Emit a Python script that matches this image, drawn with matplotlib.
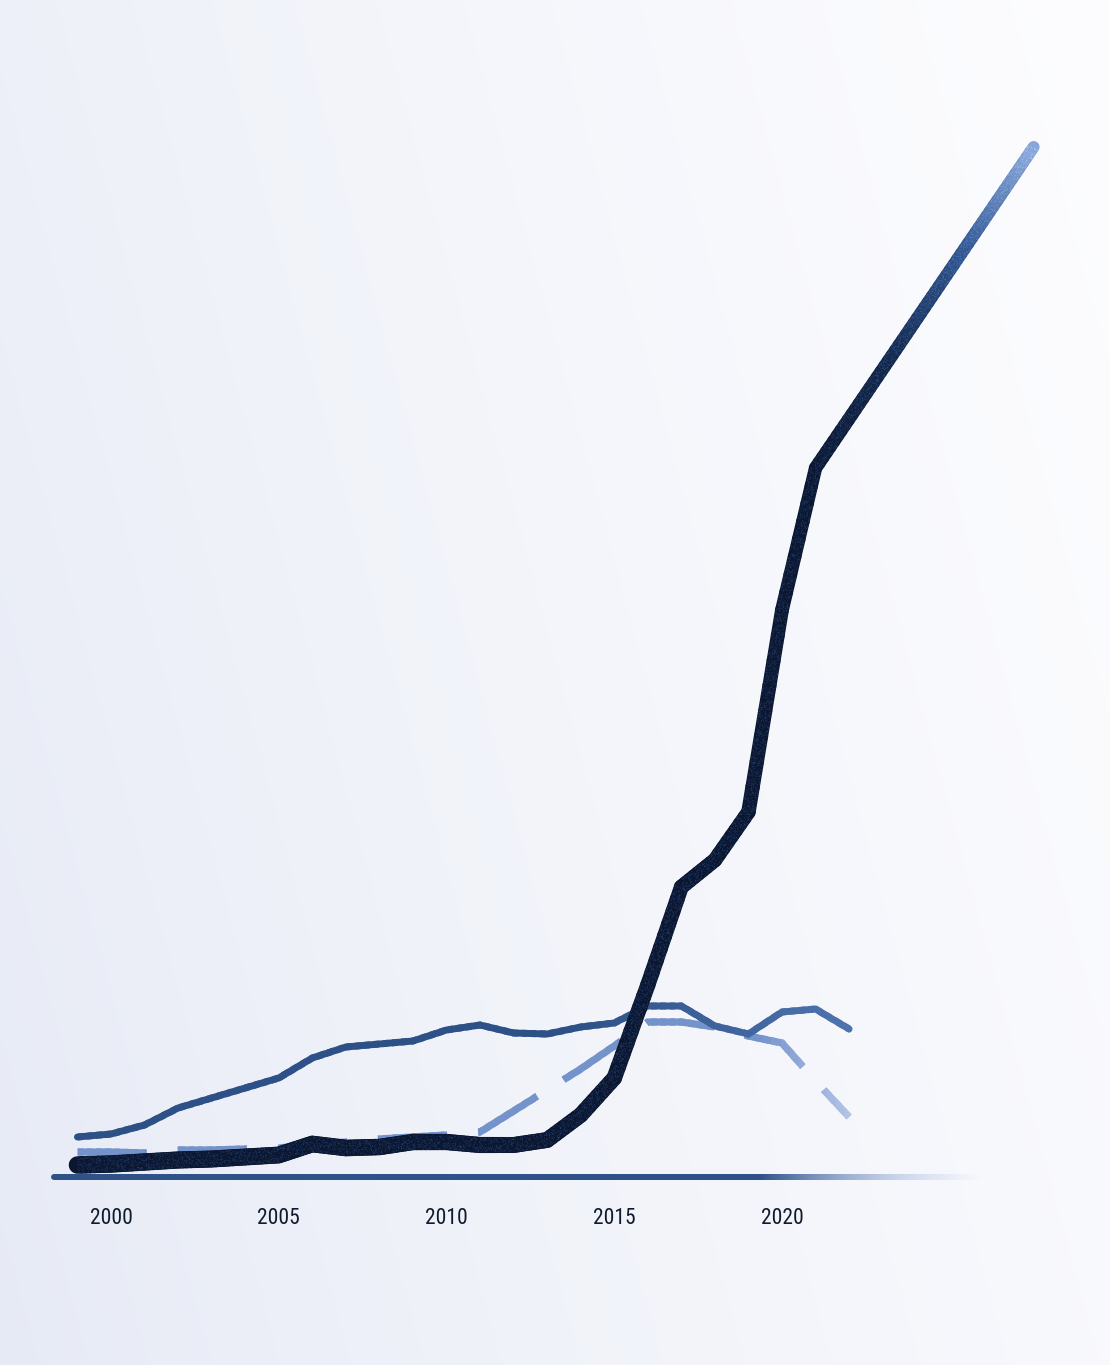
import numpy as np
import matplotlib
matplotlib.use("Agg")
import matplotlib.pyplot as plt
from matplotlib.collections import LineCollection
from matplotlib.colors import to_rgba
from matplotlib.patches import Rectangle
from matplotlib import font_manager

# --- data (arbitrary units) ---
years_main = [1999, 2000, 2001, 2002, 2003, 2004, 2005, 2006, 2007, 2008, 2009, 2010,
              2011, 2012, 2013, 2014, 2015, 2016, 2017, 2018, 2019, 2020, 2021, 2027.5]
main_values = [1.2, 1.3, 1.5, 1.7, 1.8, 2.0, 2.2, 3.3, 2.9, 3.0, 3.5, 3.5,
               3.2, 3.2, 3.7, 6.2, 9.9, 19.2, 29.0, 31.7, 36.5, 56.7, 70.9, 103.0]

years = list(range(1999, 2023))
solid_values = [4.0, 4.3, 5.2, 6.9, 7.9, 8.9, 9.9, 11.9, 13.0, 13.3, 13.6, 14.7,
                15.2, 14.4, 14.3, 15.0, 15.4, 17.1, 17.1, 15.1, 14.3, 16.5, 16.8, 14.8]
dashed_values = [2.5, 2.5, 2.4, 2.7, 2.7, 2.8, 2.9, 3.2, 3.5, 3.8, 4.0, 4.2,
                 4.5, 6.6, 8.7, 10.8, 13.1, 15.5, 15.5, 15.0, 14.1, 13.4, 9.6, 6.0]

tick_years = [2000, 2005, 2010, 2015, 2020]

W, H, DPI = 1110, 1365, 100
fig = plt.figure(figsize=(W / DPI, H / DPI), dpi=DPI)

# background gradient
bg = fig.add_axes([0, 0, 1, 1], zorder=-10)
gx, gy = np.meshgrid(np.linspace(0, 1, 300), np.linspace(0, 1, 300))
t = np.clip(0.75 * gx + 0.25 * gy, 0, 1) ** 0.8
c0 = np.array(to_rgba("#e6eaf5")[:3])
c1 = np.array(to_rgba("#fdfdff")[:3])
img = c0[None, None, :] * (1 - t[..., None]) + c1[None, None, :] * t[..., None]
bg.imshow(img, origin="lower", extent=[0, 1, 0, 1], aspect="auto")
bg.axis("off")

# main axes: baseline sits at pixel row 1177
px_per_year = 33.55
x0 = 2000 - 111 / px_per_year
x1 = 2000 + (W - 111) / px_per_year
bottom = (H - 1177) / H
ax = fig.add_axes([0, bottom, 1, 1 - bottom])
ax.set_xlim(x0, x1)
ax.set_ylim(0, 117.7)
ax.patch.set_alpha(0)
for s in ax.spines.values():
    s.set_visible(False)
ax.set_yticks([])


def blend(ca, cb, f):
    a = np.array(to_rgba(ca))
    b = np.array(to_rgba(cb))
    return a * (1 - f) + b * f


def strip_draw(xs, ys, color_at, n=60, **kw):
    # draw the same line in overlapping vertical strips so colour can change along x
    edges = np.linspace(x0, x1, n + 1)
    step = edges[1] - edges[0]
    for i, (a, b) in enumerate(zip(edges[:-1], edges[1:])):
        if b < min(xs) - 1 or a > max(xs) + 1:
            continue
        ln, = ax.plot(xs, ys, color=color_at((a + b) / 2), **kw)
        left = a - 0.6 * step if i > 0 else a - 5
        right = b if i < n - 1 else b + 5
        r = Rectangle((left, -50), right - left, 300, transform=ax.transData)
        ln.set_clip_path(r)


# axis line: solid part with round cap, then a fading gradient strip
ax.plot([1998.3, 2019.3], [0, 0], color="#2e5287", lw=4.3,
        solid_capstyle="round", zorder=2, clip_on=False)
grad = np.linspace(0, 1, 256)
ramp = np.zeros((1, 256, 4))
for j, f in enumerate(grad):
    c = blend("#2e5287", "#6a8cc6", min(1, f * 1.6))
    c[3] = (1 - f) ** 1.2
    ramp[0, j] = c
ax.imshow(ramp, extent=[2019.3, 2026.0, -0.3, 0.3], aspect="auto",
          interpolation="bilinear", zorder=2, clip_on=False)
ax.set_xlim(x0, x1)
ax.set_ylim(0, 117.7)

# dashed series
def dash_col(x):
    f = np.clip((x - 2019.5) / 3.0, 0, 1)
    return blend("#7593cb", "#b9c9e8", f)

strip_draw(years, dashed_values, dash_col, n=120, lw=5.2, dashes=(9.6, 4.3),
           solid_capstyle="butt", dash_capstyle="butt", zorder=3)

# solid blue series
def solid_col(x):
    f = np.clip((x - 2014) / 8.0, 0, 1)
    return blend("#2d5187", "#4d72ad", f)

strip_draw(years, solid_values, solid_col, n=120, lw=5.0,
           solid_capstyle="round", solid_joinstyle="miter", zorder=4)

# main thick series: tapered width and colour fade at the end
xm = np.array(years_main, dtype=float)
ym = np.array(main_values, dtype=float)
seg_x, seg_y = [], []
for i in range(len(xm) - 1):
    k = 60 if i == len(xm) - 2 else 8
    s = np.linspace(0, 1, k, endpoint=False)
    seg_x.extend(xm[i] + (xm[i + 1] - xm[i]) * s)
    seg_y.extend(ym[i] + (ym[i + 1] - ym[i]) * s)
seg_x.append(xm[-1])
seg_y.append(ym[-1])
seg_x = np.array(seg_x)
seg_y = np.array(seg_y)
pts = np.column_stack([seg_x, seg_y])
segs = np.stack([pts[:-1], pts[1:]], axis=1)
mid_x = (seg_x[:-1] + seg_x[1:]) / 2
# width shrinks with progress along the line (in pixels)
dpx = np.hypot(np.diff(seg_x) * px_per_year, np.diff(seg_y) * 10)
cum = np.concatenate([[0], np.cumsum(dpx)])
prog = (cum[:-1] + cum[1:]) / 2 / cum[-1]
widths_px = 17.5 - 5.5 * prog
cols = []
for mx in mid_x:
    f = np.clip((mx - 2021.0) / 6.5, 0, 1)
    if f < 0.35:
        cols.append(blend("#0b1730", "#13284a", f / 0.35))
    elif f < 0.7:
        cols.append(blend("#13284a", "#34588f", (f - 0.35) / 0.35))
    else:
        cols.append(blend("#34588f", "#8ba7dc", (f - 0.7) / 0.3))
cols = np.array(cols)
lc = LineCollection(segs, linewidths=widths_px * 72 / DPI, colors=cols,
                    capstyle="round", joinstyle="round", zorder=5)
ax.add_collection(lc)

# grain texture on the thick line (decoration only)
rng = np.random.default_rng(7)
n_per = np.maximum(1, (dpx * widths_px * 0.35).astype(int))
gxs, gys, gcs = [], [], []
for i in range(len(segs)):
    (xa, ya), (xb, yb) = segs[i]
    vx, vy = (xb - xa) * px_per_year, (yb - ya) * 10
    L = np.hypot(vx, vy) or 1.0
    nx, ny = -vy / L, vx / L
    u = rng.random(n_per[i])
    v = (rng.random(n_per[i]) - 0.5) * widths_px[i] * 0.9
    px = xa * px_per_year + u * vx + v * nx
    py = ya * 10 + u * vy + v * ny
    gxs.append(px / px_per_year)
    gys.append(py / 10)
    light = np.clip(cols[i][:3] + np.array([0.17, 0.27, 0.42]), 0, 1)
    gcs.append(np.tile(np.append(light, 0.55), (n_per[i], 1)))
ax.scatter(np.concatenate(gxs), np.concatenate(gys), s=0.35, c=np.concatenate(gcs),
           linewidths=0, zorder=6)

# tick labels (narrower face if one is installed)
narrow = None
for f in font_manager.fontManager.ttflist:
    if "Condensed" in f.name or "Narrow" in f.name or f.stretch in ("condensed", "semi-condensed"):
        if f.name.startswith(("Noto Sans", "Liberation Sans", "Open Sans", "Roboto")):
            narrow = f.name
            break
fam = [narrow] if narrow else []
fam += ["Noto Sans", "DejaVu Sans"]
ax.set_xticks(tick_years)
ax.set_xticklabels([str(y) for y in tick_years], fontsize=15.5 if narrow else 14,
                   family=fam, fontweight="normal", color="#0f1a2e")
ax.tick_params(axis="x", length=0, pad=22)

fig.savefig("out.png", dpi=DPI)
